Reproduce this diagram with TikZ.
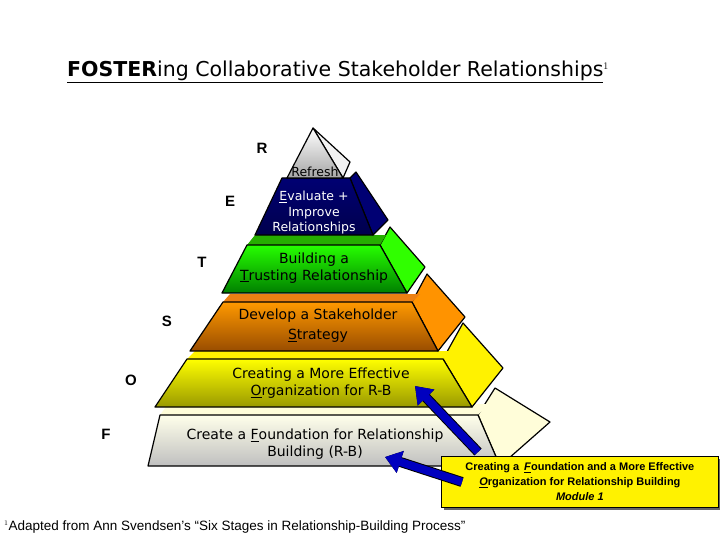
\documentclass[tikz,border=0pt]{standalone}
\usepackage{fontspec}
\setmainfont{DejaVu Sans}
\newfontfamily\arialf{Liberation Sans}
\usetikzlibrary{arrows.meta}
\begin{document}
\begin{tikzpicture}[x=1pt,y=-1pt,
  face/.style={draw=black,line width=1.2pt,line join=round},
  lbl/.style={font=\arialf\bfseries\fontsize{15}{15}\selectfont},
  ptxt/.style={align=center,font=\fontsize{14}{16.5}\selectfont},
  barrow/.style={-{Triangle[length=16pt,width=22pt]},line width=8pt,draw=blue!75!black}]
\useasboundingbox (0,0) rectangle (720,540);
% Title
\node[anchor=west,inner sep=0pt,font=\fontsize{20.5}{22}\selectfont] (title) at (67,72) {\underline{\textbf{FOSTER}ing Collaborative Stakeholder Relationships}$^{\scriptscriptstyle 1}$};
% base layer
\filldraw[face,fill=yellow!15] (478,415) -- (495,388) -- (550,422) -- (500,466) -- cycle;
\fill[yellow!15] (168,404) -- (488,404) -- (478,415) -- (160,415) -- cycle;
\shade[face,top color=yellow!8,bottom color=black!25] (160,415) -- (478,415) -- (500,466) -- (148,466) -- cycle;
% yellow layer
\filldraw[face,fill=yellow] (443,359) -- (463,323) -- (503,368) -- (472,407) -- cycle;
\fill[yellow] (195,351) -- (455,351) -- (443,359) -- (187,359) -- cycle;
\shade[face,top color=yellow,bottom color=yellow!60!black] (187,359) -- (443,359) -- (472,407) -- (155,407) -- cycle;
% orange layer
\filldraw[face,fill=orange!85!yellow] (412,302) -- (427,274) -- (465,317) -- (438,351) -- cycle;
\fill[orange!70!brown] (230,294) -- (420,294) -- (412,302) -- (223,302) -- cycle;
\shade[face,top color=orange!80!yellow,bottom color=orange!60!black] (223,302) -- (412,302) -- (438,351) -- (190,351) -- cycle;
% green layer
\filldraw[face,fill=green!75!lime] (380,245) -- (390,227) -- (425,267) -- (407,293) -- cycle;
\fill[green!60!black!80!lime] (255,235) -- (386,235) -- (380,245) -- (247,245) -- cycle;
\shade[face,top color=green!80!lime,bottom color=green!50!black] (247,245) -- (380,245) -- (407,293) -- (222,293) -- cycle;
% navy layer
\filldraw[face,fill=blue!45!black] (350,178) -- (356,172) -- (388,220) -- (373,235) -- cycle;
\shade[face,top color=blue!45!black,bottom color=blue!30!black] (282,178) -- (350,178) -- (373,235) -- (255,235) -- cycle;
% cap
\filldraw[face,fill=black!5] (313,128) -- (350,162) -- (343,178) -- cycle;
\shade[face,top color=white,bottom color=black!35] (313,128) -- (343,178) -- (287,178) -- cycle;
% texts
\node[font=\fontsize{12.5}{14}\selectfont] (tr) at (315,172) {Refresh};
\node[ptxt,text=white,font=\fontsize{12.5}{15.5}\selectfont] (te) at (314,213) {\underline{E}valuate +\\Improve\\Relationships};
\node[ptxt] (tt) at (314,268) {Building a\\\underline{T}rusting Relationship};
\node[ptxt,font=\fontsize{14}{20}\selectfont] (ts) at (318,326) {Develop a Stakeholder\\\underline{S}trategy};
\node[ptxt] (to) at (321,383) {Creating a More Effective\\\underline{O}rganization for R-B};
\node[ptxt] (tf) at (315,444) {Create a \underline{F}oundation for Relationship\\Building (R-B)};
% letters
\node[lbl] (lr) at (262,148) {R};
\node[lbl] (le) at (230,201) {E};
\node[lbl] (lt) at (202,262) {T};
\node[lbl] (ls) at (167,321) {S};
\node[lbl] (lo) at (131,380) {O};
\node[lbl] (lf) at (106,434) {F};
% callout
\fill[black!60] (444,459) rectangle (721,510);
\node[draw=black,fill=yellow,line width=0.8pt,minimum width=277pt,minimum height=51pt,anchor=north west,inner sep=0pt] (box) at (441,456) {};
\node[align=center,font=\arialf\bfseries\fontsize{11}{15}\selectfont] (boxt) at (box.center) {Creating a \,\underline{\textit{F}}oundation and a More Effective\\\underline{\textit{O}}rganization for Relationship Building\\\textit{Module 1}};
% arrows
\coordinate (a1s) at (478,452);
\coordinate (a1e) at (415,386);
\coordinate (a2s) at (462,482);
\coordinate (a2e) at (385,457);
\draw[barrow,draw=black,line width=10pt] (a1s) -- (a1e);
\draw[barrow] (a1s) -- (a1e);
\draw[barrow,draw=black,line width=10pt] (a2s) -- (a2e);
\draw[barrow] (a2s) -- (a2e);
% footnote
\node[anchor=west,inner sep=0pt,font=\arialf\fontsize{13.5}{14}\selectfont] (fn) at (4,527) {$^{\scriptscriptstyle 1}$Adapted from Ann Svendsen’s “Six Stages in Relationship-Building Process”};
\end{tikzpicture}
\end{document}
